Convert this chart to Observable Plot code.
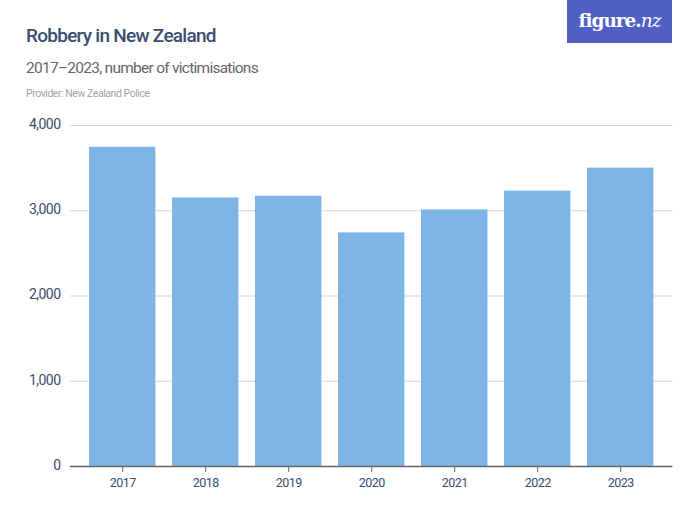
<!DOCTYPE html>
<html>
<head>
<meta charset="utf-8">
<script src="https://cdn.jsdelivr.net/npm/d3@7"></script>
<script src="https://cdn.jsdelivr.net/npm/@observablehq/plot@0.6"></script>
<style>
html,body{margin:0;padding:0;background:#fff;width:700px;height:525px;overflow:hidden}
#wrap{position:relative;width:700px;height:525px}
.t{position:absolute;white-space:nowrap;font-family:Roboto,sans-serif}
#title{left:26px;top:25px;font-size:19px;font-weight:500;color:#3a4d6f;letter-spacing:-.73px;line-height:22px}
#sub{left:26px;top:59px;font-size:15.5px;color:#666;letter-spacing:-.74px;line-height:19px}
#prov{left:26px;top:87px;font-size:10.5px;color:#a3a3a3;letter-spacing:-.45px;line-height:13px}
#logo{left:567px;top:0;width:105px;height:43px;background:#4f5fc4;color:#fff;font-family:"DejaVu Serif",serif;font-size:18.5px;font-weight:700;text-align:center;line-height:42px;letter-spacing:-1px}
#logo i{font-weight:400}
#chart{position:absolute;left:0;top:100px}
#chart svg{display:block}
</style>
</head>
<body>
<div id="wrap">
<div class="t" id="title">Robbery in New Zealand</div>
<div class="t" id="sub">2017–2023, number of victimisations</div>
<div class="t" id="prov">Provider: New Zealand Police</div>
<div class="t" id="logo">figure.<i>nz</i></div>
<div id="chart"></div>
</div>
<script>
const years = ["2017","2018","2019","2020","2021","2022","2023"];
const victimisations = [3745,3150,3170,2740,3010,3230,3500];
const yTicks = [0,1000,2000,3000,4000];
const rows = years.map((year,i)=>({year,value:victimisations[i]}));
const chart = Plot.plot({
  width:700,height:390,
  marginLeft:70,marginRight:27.6,marginTop:25,marginBottom:24,
  style:{fontFamily:"Roboto,sans-serif",background:"transparent",overflow:"visible",letterSpacing:"-0.55px"},
  x:{domain:years,paddingInner:0.2,paddingOuter:0.229,round:false,label:null},
  y:{domain:[0,4000],label:null},
  marks:[
    Plot.ruleY(yTicks.filter(d=>d>0),{stroke:"#d6d6d6",strokeWidth:1,strokeOpacity:1}),
    Plot.barY(rows,{x:"year",y:"value",fill:"#7eb5e5"}),
    Plot.ruleY([0],{stroke:"#666",strokeWidth:1.3}),
    Plot.axisX({tickSize:6,tickPadding:6,stroke:"#666",strokeOpacity:1,fill:"#3a4d6f",fontSize:12.5,label:null}),
    Plot.axisY({ticks:yTicks,tickSize:0,tickPadding:10,tickFormat:d3.format(","),fill:"#3a4d6f",fontSize:14,dy:-1,label:null})
  ]
});
document.getElementById("chart").appendChild(chart);
</script>
</body>
</html>
